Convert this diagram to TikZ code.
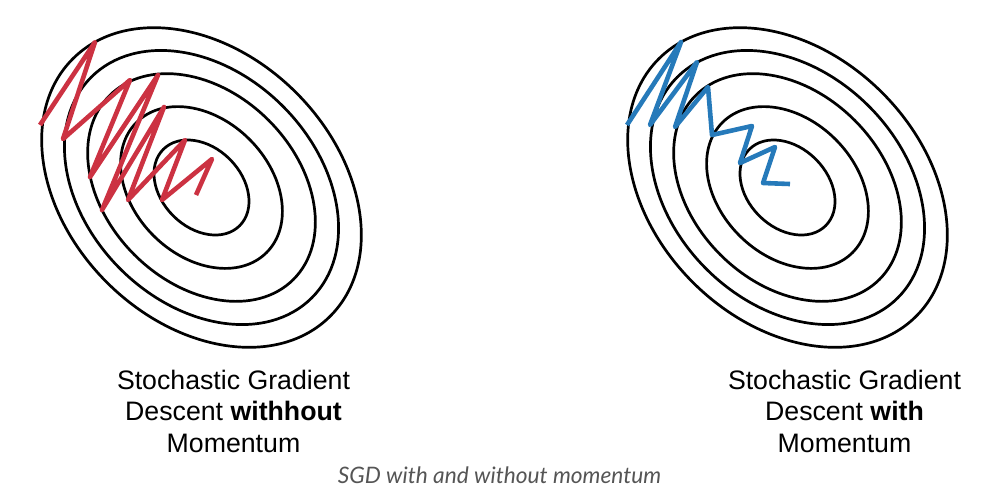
\documentclass[tikz,border=0pt]{standalone}
\usepackage{fontspec}
\setmainfont{Liberation Sans}
\newfontfamily\sgdcapfont{Lato}
\usepackage{tikz}
\definecolor{sgdred}{RGB}{204,50,66}
\definecolor{sgdblue}{RGB}{38,122,186}
\definecolor{capgray}{RGB}{85,85,85}
\tikzset{
    ring/.style = {line width=2.7pt},
    zigzag/.style = {line width=4.6pt, line join=round},
    sgdtext/.style = {align=center, inner sep=0pt, font=\fontsize{26.7}{31.5}\selectfont}
}

\begin{document}
\begin{tikzpicture}[x=1pt, y=-1pt]
        \useasboundingbox (0,0) rectangle (996,499);
        \coordinate (lc) at (201.5,187.5);
        \coordinate (rc) at (787.5,187.5);
        % contour rings, left
        \draw[ring, rotate around={-45:(lc)}] (lc) ellipse (182 and 134);
        \draw[ring, rotate around={-45:(lc)}] (lc) ellipse (156 and 115);
        \draw[ring, rotate around={-45:(lc)}] (lc) ellipse (130 and 95);
        \draw[ring, rotate around={-45:(lc)}] (lc) ellipse (92 and 68);
        \draw[ring, rotate around={-45:(lc)}] (lc) ellipse (54 and 40);
        % contour rings, right
        \draw[ring, rotate around={-45:(rc)}] (rc) ellipse (182 and 134);
        \draw[ring, rotate around={-45:(rc)}] (rc) ellipse (156 and 115);
        \draw[ring, rotate around={-45:(rc)}] (rc) ellipse (130 and 95);
        \draw[ring, rotate around={-45:(rc)}] (rc) ellipse (92 and 68);
        \draw[ring, rotate around={-45:(rc)}] (rc) ellipse (54 and 40);
        \draw[zigzag, sgdred] (40,125) -- (95,42) -- (63,139) -- (130,80) -- (90,177)
            -- (158,75) -- (102,210) -- (164,107) -- (128,200) -- (185,140)
            -- (162,200) -- (212,159) -- (196,195);
        \draw[zigzag, sgdblue] (627,125) -- (681,42) -- (650,125) -- (697,62) -- (675,127)
            -- (708,87) -- (712,135) -- (752,126) -- (740,163) -- (775,147)
            -- (763,183) -- (790,184);
        \node[sgdtext] (without) at (233.5,411) {Stochastic Gradient\\ Descent \textbf{withhout}\\ Momentum};
        \node[sgdtext] (with) at (844.5,411) {Stochastic Gradient\\ Descent \textbf{with}\\ Momentum};
        \node[anchor=base, text=capgray, font=\sgdcapfont\itshape\fontsize{22.7}{27}\selectfont] (caption) at (499.5,483) {SGD with and without momentum};
    \end{tikzpicture}
\end{document}
